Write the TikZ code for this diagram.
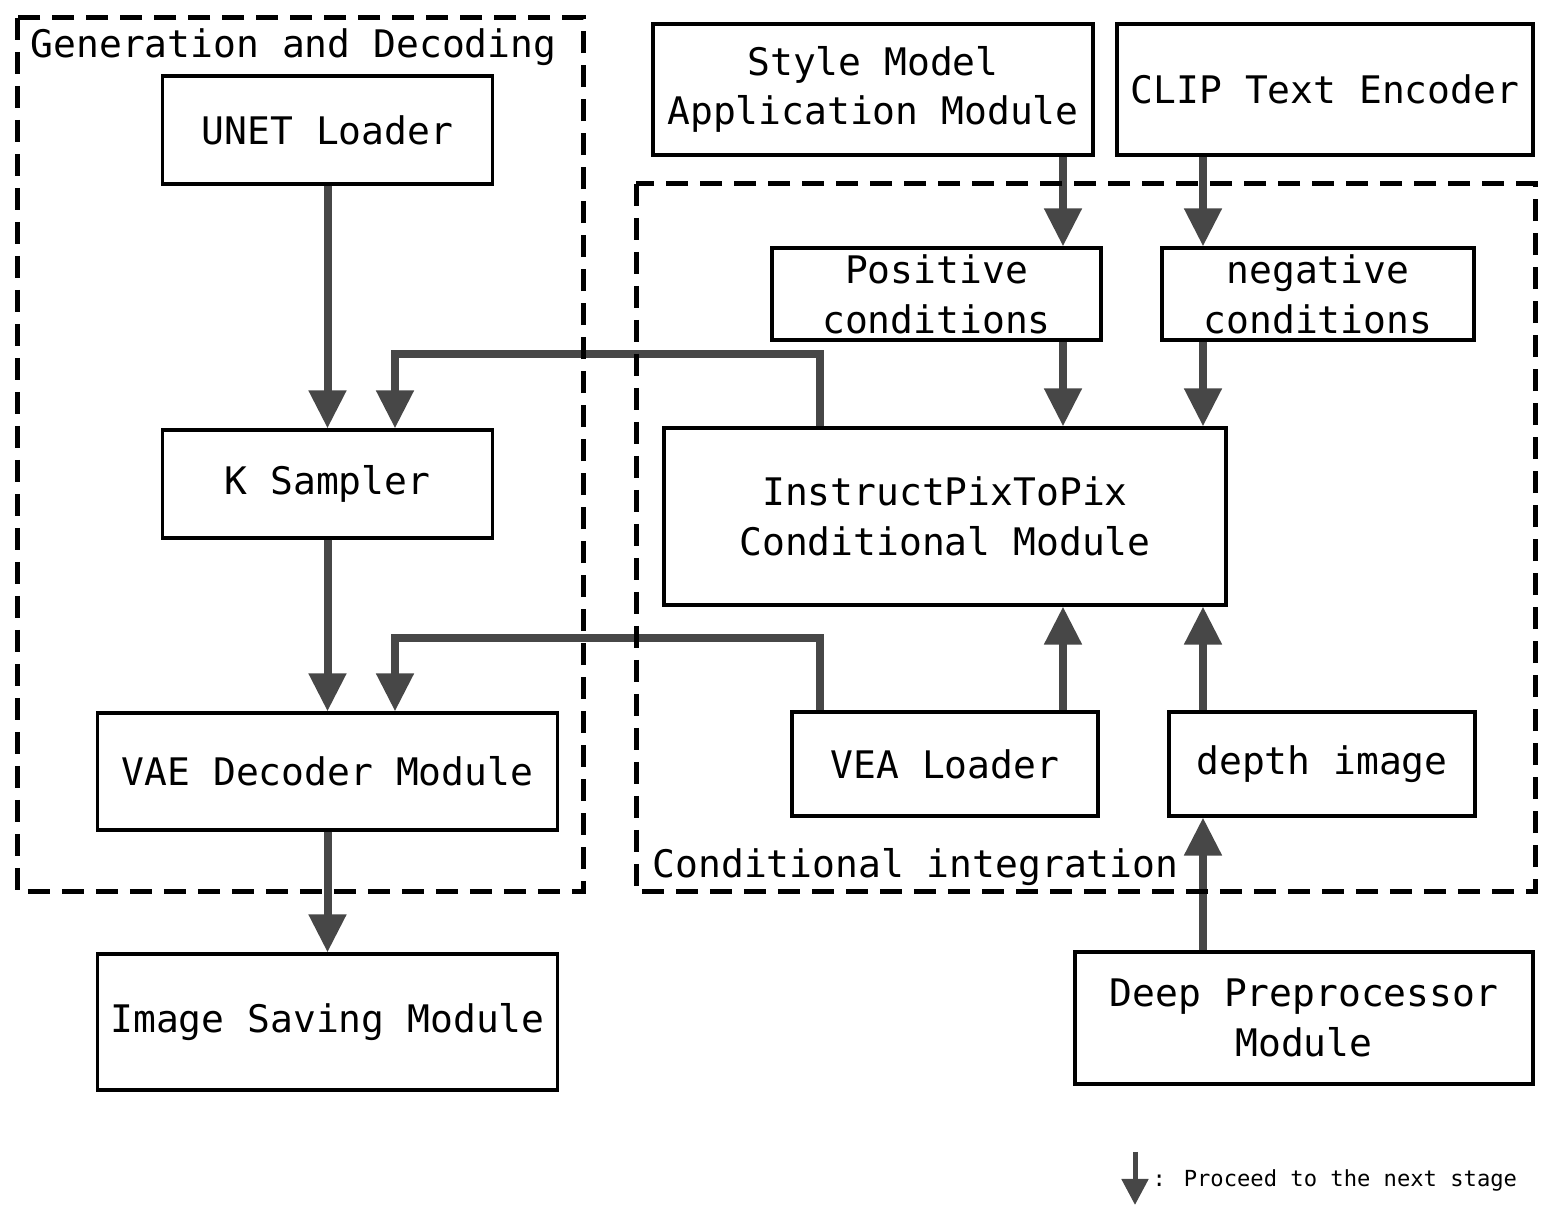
\documentclass[tikz,border=0pt]{standalone}
\usepackage{fontspec}
\setmainfont{DejaVu Sans Mono}
\usepackage{tikz}
\usetikzlibrary{arrows.meta,positioning,calc}
\definecolor{flowgray}{HTML}{474747}
\newcommand{\blkfont}{\fontsize{10.8}{14.2}\selectfont}
\newcommand{\keyfont}{\fontsize{6.3}{8}\selectfont}

\begin{document}
\begin{tikzpicture}[
    blk/.style={draw, line width=0.9pt, inner sep=0pt, align=center, font=\blkfont},
    arr/.style={-{Triangle[length=0.38cm, width=0.36cm]}, line width=0.08cm, draw=flowgray},
    grp/.style={draw, line width=0.05cm, dash pattern=on 0.22cm off 0.12cm},
    lbl/.style={anchor=west, inner sep=0pt, font=\blkfont}
]
\useasboundingbox (0,0) rectangle (15.52,12.22);

% left column
\node[blk, minimum width=3.30cm, minimum height=1.08cm] (unet) at (3.275,10.92) {UNET Loader};
\node[blk, minimum width=3.30cm, minimum height=1.08cm] (ksamp) at (3.275,7.38) {K Sampler};
\node[blk, minimum width=4.60cm, minimum height=1.17cm] (vae) at (3.275,4.505) {VAE Decoder Module};
\node[blk, minimum width=4.60cm, minimum height=1.36cm] (save) at (3.275,2.00) {Image Saving Module};

% right column
\node[blk, minimum width=4.40cm, minimum height=1.31cm] (style) at (8.73,11.325) {Style Model\\Application Module};
\node[blk, minimum width=4.16cm, minimum height=1.31cm] (clip) at (13.25,11.325) {CLIP Text Encoder};
\node[blk, minimum width=3.29cm, minimum height=0.92cm] (pos) at (9.365,9.28) {Positive\\conditions};
\node[blk, minimum width=3.12cm, minimum height=0.92cm] (neg) at (13.18,9.28) {negative\\conditions};
\node[blk, minimum width=5.62cm, minimum height=1.77cm] (instr) at (9.45,7.055) {InstructPixToPix\\Conditional Module};
\node[blk, minimum width=3.06cm, minimum height=1.04cm] (vea) at (9.45,4.58) {VEA Loader};
\node[blk, minimum width=3.06cm, minimum height=1.04cm] (depth) at (13.22,4.58) {depth image};
\node[blk, minimum width=4.58cm, minimum height=1.32cm] (deep) at (13.04,2.04) {Deep Preprocessor\\Module};

% arrow columns
\coordinate (colA) at (10.63,0);
\coordinate (colB) at (12.03,0);
\coordinate (colC) at (8.20,0);
\coordinate (colD) at (3.95,0);

\draw[arr] (unet) -- (ksamp);
\draw[arr] (ksamp) -- (vae);
\draw[arr] (vae) -- (save);
\draw[arr] (style.south -| colA) -- (pos.north -| colA);
\draw[arr] (clip.south -| colB) -- (neg.north -| colB);
\draw[arr] (pos.south -| colA) -- (instr.north -| colA);
\draw[arr] (neg.south -| colB) -- (instr.north -| colB);
\draw[arr] (vea.north -| colA) -- (instr.south -| colA);
\draw[arr] (depth.north -| colB) -- (instr.south -| colB);
\draw[arr] (deep.north -| colB) -- (depth.south -| colB);
\draw[arr] (instr.north -| colC) -- ++(0,0.72) -| (ksamp.north -| colD);
\draw[arr] (vea.north -| colC) -- ++(0,0.72) -| (vae.north -| colD);

% groups
\draw[grp] (0.18,12.04) rectangle (5.83,3.30);
\draw[grp] (6.36,10.38) rectangle (15.35,3.30);
\node[lbl] (genlbl) at (0.30,11.75) {Generation and Decoding};
\node[lbl] (condlbl) at (6.52,3.55) {Conditional integration};

% key
\coordinate (keytop) at (11.35,0.70);
\coordinate (keybot) at (11.35,0.17);
\draw[arr, line width=0.05cm, -{Triangle[length=0.26cm, width=0.26cm]}] (keytop) -- (keybot);
\node[anchor=west, inner sep=0pt, font=\keyfont] (keytxt) at (11.52,0.42) {: Proceed to the next stage};
\end{tikzpicture}
\end{document}
